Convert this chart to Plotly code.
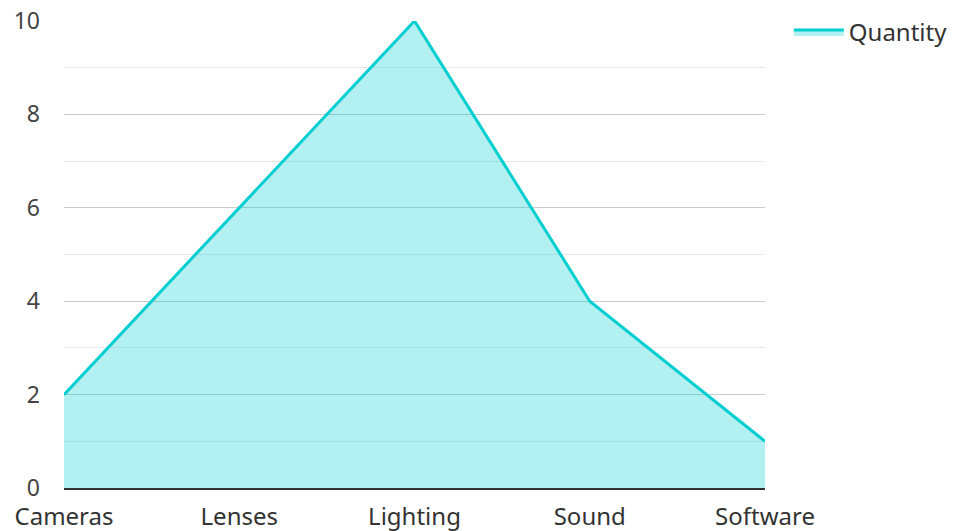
import plotly.graph_objects as go

categories = ["Cameras", "Lenses", "Lighting", "Sound", "Software"]
quantity = [2, 6, 10, 4, 1]
series_name = "Quantity"

fig = go.Figure()
fig.add_trace(go.Scatter(
    x=categories, y=quantity, name=series_name, mode="lines",
    line=dict(color="#00CED1", width=3),
    fill="tozeroy", fillcolor="rgba(0,206,209,0.3)",
))

fig.update_layout(
    width=954, height=531,
    margin=dict(l=64, r=189, t=21, b=43, autoexpand=False),
    paper_bgcolor="white", plot_bgcolor="white",
    font=dict(family="Noto Sans", size=24, color="#444"),
    showlegend=True,
    legend=dict(x=1.034, y=1.024, xanchor="left", yanchor="top", itemwidth=50,
                font=dict(size=24, color="#333"), bgcolor="rgba(0,0,0,0)"),
    xaxis=dict(range=[0, 4], showgrid=False, showline=True, linecolor="#333",
               linewidth=2, ticks="", tickfont=dict(size=24, color="#333"),
               zeroline=False, ticklabelstandoff=6),
    yaxis=dict(range=[0, 10], dtick=2, showgrid=True, gridcolor="#cccccc",
               gridwidth=1, zeroline=False, ticks="",
               tickfont=dict(size=23, color="#444"), ticklabelstandoff=23,
               minor=dict(dtick=1, showgrid=True, gridcolor="#e8e8e8", gridwidth=1)),
)

fig.write_html("out.html", config={"displayModeBar": False},
               post_script="document.body.style.margin='0';")
